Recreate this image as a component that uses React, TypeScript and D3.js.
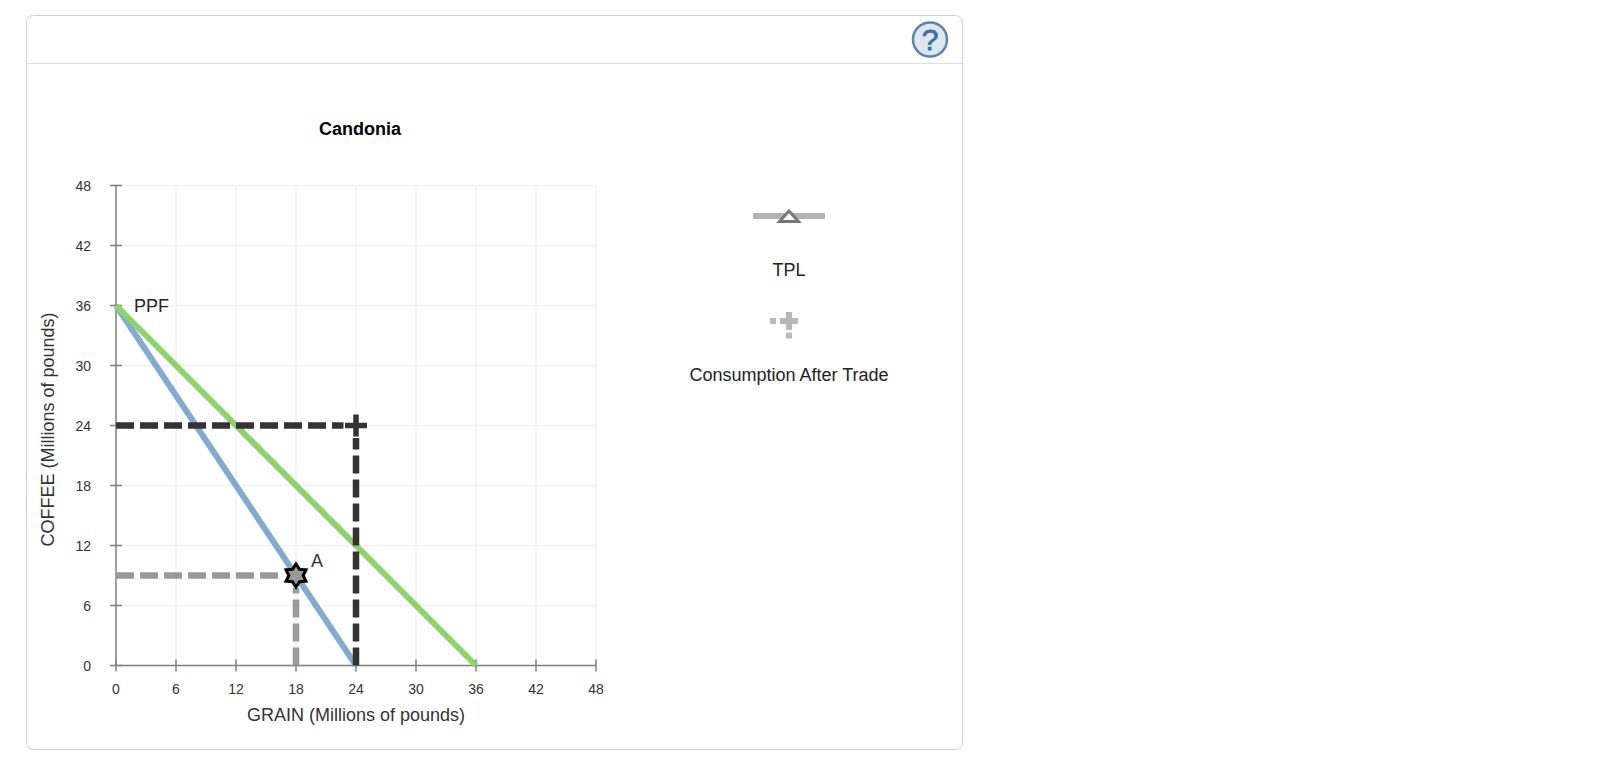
import React from "react";
import * as d3 from "d3";

const ticks = [0, 6, 12, 18, 24, 30, 36, 42, 48];
const ppfX = [0, 24];
const ppfY = [36, 0];
const tplX = [0, 36];
const tplY = [36, 0];
const consumption = { x: 24, y: 24 };
const production = { x: 18, y: 9 };
const title = "Candonia";
const xTitle = "GRAIN (Millions of pounds)";
const yTitle = "COFFEE (Millions of pounds)";
const legendTPL = "TPL";
const legendCons = "Consumption After Trade";

const FONT = "'Liberation Sans', Arial, sans-serif";
const x = d3.scaleLinear().domain([0, 48]).range([116, 596]);
const y = d3.scaleLinear().domain([0, 48]).range([665.5, 185.5]);
const line = d3.line<[number, number]>().x((d) => x(d[0])).y((d) => y(d[1]));
const GAP = 12.5;

function star(cx: number, cy: number, R: number) {
  const r = R * 0.62;
  const pts: [number, number][] = [];
  for (let i = 0; i < 12; i++) {
    const a = (i * Math.PI) / 6 - Math.PI / 2;
    const rad = i % 2 === 0 ? R : r;
    pts.push([cx + rad * Math.cos(a), cy + rad * Math.sin(a)]);
  }
  return d3.line()(pts) + "Z";
}

function Guides({ p, color }: { p: { x: number; y: number }; color: string }) {
  const hEnd = x.invert(x(p.x) - GAP);
  const vEnd = y.invert(y(p.y) + GAP);
  return (
    <g fill="none" stroke={color} strokeWidth={6.5} strokeDasharray="18 6">
      <path d={line([[0, p.y], [hEnd, p.y]]) ?? ""} />
      <path d={line([[p.x, 0], [p.x, vEnd]]) ?? ""} />
    </g>
  );
}

export default function App() {
  return (
    <svg width={1608} height={761} style={{ display: "block", position: "absolute", left: 0, top: 0 }} viewBox="0 0 1608 761" fontFamily={FONT}>
      <rect x={26.5} y={15.5} width={936} height={734} rx={7} fill="#fff" stroke="#cfcfcf" />
      <line x1={27} x2={962} y1={63.5} y2={63.5} stroke="#e0e0e0" />
      <circle cx={930} cy={39.5} r={17} fill="#dde7f0" stroke="#5b85ad" strokeWidth={2.5} />
      <text x={930} y={50} textAnchor="middle" fontSize={30} fontWeight={400} stroke="#3f6f9f" strokeWidth={0.8} fill="#3f6f9f">?</text>

      <text x={360} y={135} textAnchor="middle" fontSize={18} fontWeight={700} fill="#000">{title}</text>

      {ticks.slice(1).map((t) => (
        <g key={t} stroke="#f1f1f1" strokeWidth={1.5}>
          <line x1={x(t)} x2={x(t)} y1={y(0)} y2={y(48)} />
          <line x1={x(0)} x2={x(48)} y1={y(t)} y2={y(t)} />
        </g>
      ))}
      <g stroke="#7f7f7f" strokeWidth={1.5}>
        <line x1={x(0)} x2={x(48)} y1={y(0)} y2={y(0)} />
        <line x1={x(0)} x2={x(0)} y1={y(0)} y2={y(48)} />
        {ticks.map((t) => (
          <g key={t}>
            <line x1={x(t)} x2={x(t)} y1={y(0) - 6} y2={y(0) + 6} />
            <line x1={x(0) - 6} x2={x(0) + 6} y1={y(t)} y2={y(t)} />
          </g>
        ))}
      </g>
      {ticks.map((t) => (
        <g key={t} fontSize={14} fill="#333">
          <text x={x(t)} y={y(0) + 28.5} textAnchor="middle">{t}</text>
          <text x={91} y={y(t) + 1.5} textAnchor="end" dominantBaseline="middle">{t}</text>
        </g>
      ))}
      <text x={356} y={720.5} textAnchor="middle" fontSize={18} fill="#333">{xTitle}</text>
      <text transform="translate(54,429.5) rotate(-90)" textAnchor="middle" fontSize={18} fill="#333">{yTitle}</text>

      <path d={line(ppfX.map((v, i) => [v, ppfY[i]]) as [number, number][]) ?? ""} fill="none" stroke="#82abd3" strokeWidth={6} />
      <path d={line(tplX.map((v, i) => [v, tplY[i]]) as [number, number][]) ?? ""} fill="none" stroke="#8bd46a" strokeWidth={6} />

      <Guides p={production} color="#999" />
      <Guides p={consumption} color="#333" />
      <path
        d={`M${x(consumption.x) - 11},${y(consumption.y)}H${x(consumption.x) + 11}M${x(consumption.x)},${y(consumption.y) - 11}V${y(consumption.y) + 11}`}
        stroke="#333"
        strokeWidth={5.5}
        fill="none"
      />
      <path d={star(x(production.x), y(production.y), 11.5)} fill="#999" stroke="#000" strokeWidth={3} strokeLinejoin="miter" strokeMiterlimit={2} />

      <text x={134} y={311.5} fontSize={18} fill="#222">PPF</text>
      <text x={311} y={566.5} fontSize={18} fill="#333">A</text>

      <line x1={753} x2={825} y1={216} y2={216} stroke="#b4b4b4" strokeWidth={6} />
      <path d="M789,211L798.5,221.5H779.5Z" fill="#fff" stroke="#777" strokeWidth={3} />
      <text x={789} y={275.5} textAnchor="middle" fontSize={18} fill="#222">{legendTPL}</text>
      <path d="M770,321H776M780,321H798M789,312V330M789,332.5V338.5" stroke="#b8b8b8" strokeWidth={6} fill="none" />
      <text x={789} y={380.5} textAnchor="middle" fontSize={18} fill="#222">{legendCons}</text>
    </svg>
  );
}
